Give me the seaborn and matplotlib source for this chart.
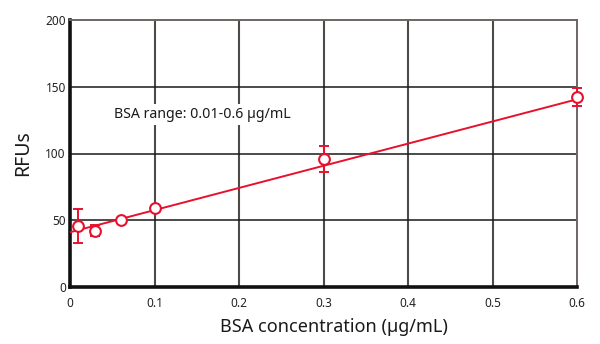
import numpy as np
import pandas as pd
import matplotlib
matplotlib.use("Agg")
import matplotlib.pyplot as plt
import seaborn as sns

# Data
bsa_conc = [0.01, 0.03, 0.06, 0.1, 0.3, 0.6]
rfu_mean = [45.7, 42.2, 50.0, 59.0, 95.9, 142.5]
rfu_err = [13.0, 4.3, 0.0, 0.0, 9.4, 6.7]
fit_intercept = 41.0
fit_slope = 166.0
x_ticks = [0, 0.1, 0.2, 0.3, 0.4, 0.5, 0.6]
x_tick_labels = ["0", "0.1", "0.2", "0.3", "0.4", "0.5", "0.6"]
y_ticks = [0, 50, 100, 150, 200]
y_tick_labels = ["0", "50", "100", "150", "200"]

RED = "#e8112d"

sns.set_theme(style="white")
plt.rcParams["font.family"] = ["Noto Sans", "DejaVu Sans"]

df = pd.DataFrame({"conc": bsa_conc, "rfu": rfu_mean, "err": rfu_err})
fit_x = [x_ticks[0], x_ticks[-1]]
fit_df = pd.DataFrame({"conc": fit_x,
                       "rfu": [fit_intercept + fit_slope * v for v in fit_x]})

fig = plt.figure(figsize=(6.0, 3.44), dpi=100)
ax = fig.add_axes([70 / 600, 1 - 287 / 344, 507 / 600, 267 / 344])

# grid
for xv in x_ticks[1:-1]:
    ax.axvline(xv, color="#4d4a48", lw=1.5, zorder=1)
for yv in y_ticks[1:-1]:
    ax.axhline(yv, color="#1a1a1a", lw=1.1, zorder=1)

sns.lineplot(data=fit_df, x="conc", y="rfu", ax=ax, color=RED, lw=1.4, zorder=3)
ax.errorbar(df["conc"], df["rfu"], yerr=df["err"], fmt="none", ecolor=RED,
            elinewidth=1.4, capsize=3.5, capthick=1.4, zorder=4, clip_on=False)
sns.scatterplot(data=df, x="conc", y="rfu", ax=ax, marker="o", s=60,
                facecolor="white", edgecolor=RED, linewidth=1.5, zorder=5,
                clip_on=False)

ax.text(0.052, 129, "BSA range: 0.01-0.6 µg/mL", fontsize=10.2, color="#1a1a1a",
        va="center", ha="left", zorder=2,
        bbox=dict(facecolor="white", edgecolor="none", pad=2))

ax.set_xlim(0, 0.6)
ax.set_ylim(0, 200)
ax.set_xticks(x_ticks)
ax.set_xticklabels(x_tick_labels)
ax.set_yticks(y_ticks)
ax.set_yticklabels(y_tick_labels)
ax.tick_params(axis="both", length=0, labelsize=8.5, colors="#222222")
ax.tick_params(axis="x", pad=7)
ax.tick_params(axis="y", pad=3)
ax.set_xlabel("BSA concentration (µg/mL)", fontsize=13, color="#1a1a1a", labelpad=6)
ax.xaxis.label.set_x(0.52)
ax.set_ylabel("RFUs", fontsize=14, color="#1a1a1a", labelpad=9)

for side in ["left", "bottom"]:
    ax.spines[side].set_color("#111111")
    ax.spines[side].set_linewidth(2.6)
for side in ["top", "right"]:
    ax.spines[side].set_color("#6b6663")
    ax.spines[side].set_linewidth(1.4)

fig.savefig("out.png", dpi=100)
